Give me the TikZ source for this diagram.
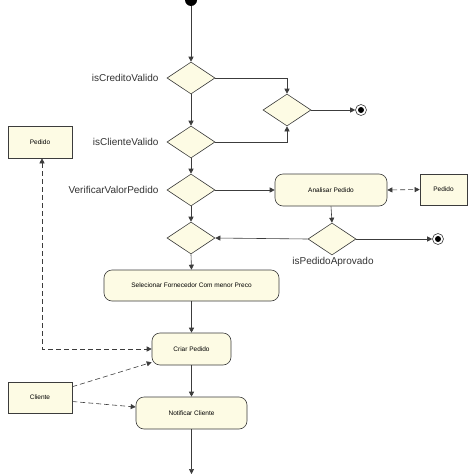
\documentclass[tikz,border=0pt]{standalone}
\usepackage{fontspec}
\setmainfont{Liberation Sans}
\usetikzlibrary{shapes.geometric,arrows.meta}
\definecolor{boxfill}{RGB}{253,251,228}
\definecolor{linec}{RGB}{60,60,60}
\begin{document}
\begin{tikzpicture}[x=1pt,y=-1pt,
  every path/.style={line width=0.6pt},
  flow/.style={draw=linec,-{Triangle[length=5pt,width=5pt]}},
  dep/.style={draw=linec,dash pattern=on 5pt off 3pt,-{Triangle[length=5pt,width=5pt]}},
  depboth/.style={draw=linec,dash pattern=on 5pt off 3pt,{Triangle[length=5pt,width=5pt]}-{Triangle[length=5pt,width=5pt]}},
  dec/.style={diamond,draw=linec,fill=boxfill,aspect=1.5,minimum width=48pt,minimum height=32pt,inner sep=0pt},
  act/.style={draw=linec,fill=boxfill,rounded corners=8pt,inner sep=0pt,font=\fontsize{6.5}{7}\selectfont},
  obj/.style={draw=linec,fill=boxfill,inner sep=0pt,font=\fontsize{6.5}{7}\selectfont},
  lbl/.style={text=black!80,font=\fontsize{10}{12}\selectfont,inner sep=0pt}]
\useasboundingbox (0,0) rectangle (474,474);
\fill[white] (0,0) rectangle (474,474);
% start
\node[circle,fill=black,minimum size=12pt,inner sep=0pt] (start) at (191,0) {};
% decisions
\node[dec] (d1) at (191,78) {};
\node[dec] (d2) at (191,142) {};
\node[dec] (d3) at (191,190) {};
\node[dec] (d4) at (191,238) {};
\node[dec] (merge) at (287,110) {};
\node[dec] (dp) at (332,239) {};
% ends
\node[circle,draw=linec,fill=white,minimum size=11pt,inner sep=0pt] (end1) at (361,110) {};
\fill[black] (end1) circle (3pt);
\node[circle,draw=linec,fill=white,minimum size=11pt,inner sep=0pt] (end2) at (438,239) {};
\fill[black] (end2) circle (3pt);
% labels
\node[lbl,anchor=east] (l1) at ([xshift=-8pt]d1.west) {isCreditoValido};
\node[lbl,anchor=east] (l2) at ([xshift=-8pt]d2.west) {isClienteValido};
\node[lbl,anchor=east] (l3) at ([xshift=-8pt]d3.west) {VerificarValorPedido};
\node[lbl] (l4) at (333,262) {isPedidoAprovado};
% activities
\node[act,minimum width=112pt,minimum height=32pt] (anal) at (331,190) {Analisar Pedido};
\node[act,minimum width=175pt,minimum height=31pt] (sel) at (191.5,285.5) {Selecionar Fornecedor Com menor Preco};
\node[act,minimum width=79pt,minimum height=32pt] (criar) at (191.5,349) {Criar Pedido};
\node[act,minimum width=111pt,minimum height=32pt] (notif) at (191.5,413) {Notificar Cliente};
% objects
\node[obj,minimum width=64pt,minimum height=32pt] (pedL) at (40,142) {Pedido};
\node[obj,minimum width=47pt,minimum height=31pt] (pedR) at (443.5,189.5) {Pedido};
\node[obj,minimum width=64pt,minimum height=31pt] (cli) at (40,397.5) {Cliente};
\coordinate (bottom) at (191.5,474);
% flows
\draw[flow] (start) -- (d1.north);
\draw[flow] (d1.south) -- (d2.north);
\draw[flow] (d2.south) -- (d3.north);
\draw[flow] (d3.south) -- (d4.north);
\draw[flow] (d4.south) -- (sel.north);
\draw[flow] (sel.south) -- (criar.north);
\draw[flow] (criar.south) -- (notif.north);
\draw[flow] (notif.south) -- (bottom);
\draw[flow] (d1.east) -| (merge.north);
\draw[flow] (d2.east) -| (merge.south);
\draw[flow] (merge.east) -- (end1.west);
\draw[flow] (d3.east) -- (anal.west);
\draw[flow] (anal.south) -- (dp.north);
\draw[flow] (dp.west) -- (d4.east);
\draw[flow] (dp.east) -- (end2.west);
% dependencies
\draw[depboth] (anal.east) -- (pedR.west);
\draw[depboth] ([xshift=2pt]pedL.south) |- (criar.west);
\draw[dep] ([yshift=-5pt]cli.north east) -- ([yshift=3pt]criar.south west);
\draw[dep] ([yshift=-4pt]cli.east) -- ([yshift=6pt]notif.west);
\end{tikzpicture}
\end{document}
